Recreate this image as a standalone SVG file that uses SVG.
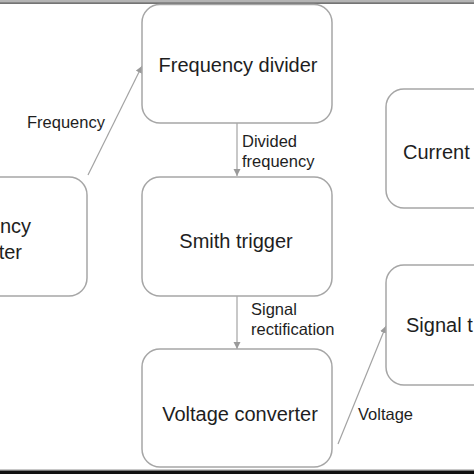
<svg xmlns="http://www.w3.org/2000/svg" width="474" height="474" viewBox="0 0 474 474">
  <style>
    .box { fill: #ffffff; stroke: #a6a6a6; stroke-width: 1.5; }
    .t { font-family: "Liberation Sans", Arial, sans-serif; font-size: 20px; fill: #1e1e1e; }
    .lbl { font-family: "Liberation Sans", Arial, sans-serif; font-size: 16.5px; fill: #1e1e1e; }
    .conn { stroke: #a3a3a3; stroke-width: 1.2; fill: none; }
  </style>
  <defs>
    <marker id="ah" markerUnits="userSpaceOnUse" markerWidth="8" markerHeight="8" refX="7" refY="3.5" orient="auto">
      <path d="M0,0 L7,3.5 L0,7 z" fill="#9a9a9a"/>
    </marker>
  </defs>
  <rect x="0" y="0" width="474" height="474" fill="#ffffff"/>
  <rect x="0" y="0" width="474" height="2.5" fill="#b4b4b4"/>
  <rect x="0" y="2.5" width="474" height="1.2" fill="#3a3a3a"/>
  <rect x="0" y="469" width="474" height="1.5" fill="#c8c8c8"/>
  <rect x="0" y="470.5" width="474" height="3.5" fill="#111111"/>

  <g id="connectors">
    <line class="conn" x1="88" y1="175" x2="142" y2="66" marker-end="url(#ah)"/>
    <line class="conn" x1="237" y1="123" x2="237" y2="176" marker-end="url(#ah)"/>
    <line class="conn" x1="237" y1="296" x2="237" y2="349" marker-end="url(#ah)"/>
    <line class="conn" x1="338" y1="444" x2="386" y2="326" marker-end="url(#ah)"/>
    <text class="lbl" x="27" y="128">Frequency</text>
    <text class="lbl" x="242" y="147">Divided</text>
    <text class="lbl" x="242" y="167">frequency</text>
    <text class="lbl" x="251" y="315">Signal</text>
    <text class="lbl" x="251" y="335">rectification</text>
    <text class="lbl" x="358" y="420">Voltage</text>
  </g>

  <g id="frequency-counter">
    <rect class="box" x="-60" y="177" width="147" height="119" rx="18"/>
    <text class="t" x="31" y="233" text-anchor="end">ncy</text>
    <text class="t" x="22" y="259" text-anchor="end">ter</text>
  </g>

  <g id="frequency-divider">
    <rect class="box" x="142" y="4.5" width="190" height="118.5" rx="18"/>
    <text class="t" x="238" y="72" text-anchor="middle">Frequency divider</text>
  </g>

  <g id="smith-trigger">
    <rect class="box" x="142" y="177" width="190" height="119" rx="18"/>
    <text class="t" x="236" y="248" text-anchor="middle">Smith trigger</text>
  </g>

  <g id="voltage-converter">
    <rect class="box" x="142" y="349" width="190" height="118" rx="18"/>
    <text class="t" x="240" y="421" text-anchor="middle">Voltage converter</text>
  </g>

  <g id="current">
    <rect class="box" x="386" y="89" width="130" height="119" rx="18"/>
    <text class="t" x="403" y="159">Current</text>
  </g>

  <g id="signal">
    <rect class="box" x="386" y="265" width="130" height="120" rx="18"/>
    <text class="t" x="406" y="332">Signal t</text>
  </g>
</svg>
